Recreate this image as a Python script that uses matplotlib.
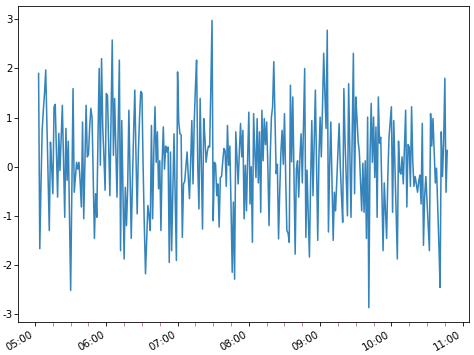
import numpy as np
import pandas as pd
import matplotlib
matplotlib.use('Agg')
import matplotlib.pyplot as plt
import matplotlib.dates as mdates

# one reading per minute, starting 05:03
start = '2021-01-01 05:03'
values = [
	1.90, -1.67, -0.40, 0.74, 1.15, 1.50, 1.97, 0.90, -0.20, -1.30,
	0.50, 0.00, -0.55, 1.22, 1.27, 0.30, -0.62, 0.68, -0.08, 0.60,
	1.25, 0.10, -1.03, 0.78, -0.28, 0.52, -1.00, -2.52, -0.50, 1.59,
	-0.52, -0.20, 0.09, -0.05, 0.09, -0.30, -0.82, 0.91, -1.06, 0.10,
	1.25, 0.20, 0.25, 0.80, 1.19, 1.00, -0.20, -1.46, -0.55, -1.03,
	0.60, 2.00, 0.03, 2.20, 0.81, 0.20, -0.48, 1.49, 1.45, 0.40,
	-0.59, 1.00, 2.58, 0.23, 1.39, 0.40, -0.62, 0.80, 2.17, -1.71,
	0.94, -0.50, -1.88, -0.42, -1.20, -0.42, 1.15, -0.20, -1.46, -0.30,
	0.70, 1.56, 0.20, -0.96, 0.30, 1.00, 1.53, 1.50, 0.00, -1.20,
	-2.18, -1.50, -0.79, -1.00, -1.30, 0.84, -1.06, 0.30, 1.22, 0.09,
	0.71, -0.45, 0.12, -1.30, 0.10, 0.81, -0.05, 0.42, 0.30, 0.40,
	-1.95, 0.30, -1.71, -0.50, 0.67, -0.60, -1.91, 1.93, 0.90, 0.67,
	0.65, -1.44, -0.35, -0.30, 0.00, 0.30, -0.20, -0.65, 0.10, 0.94,
	-0.35, 0.90, 1.60, 2.17, 0.00, -0.86, 1.39, 0.00, -1.27, 0.98,
	0.60, 0.09, 0.30, 0.42, 0.40, 1.60, 2.98, -1.10, 0.09, 0.05,
	-0.59, -0.35, -1.23, -0.22, -0.20, 0.10, 0.37, 0.33, -0.40, 0.84,
	0.03, 0.42, -0.80, -2.15, -0.72, -2.29, 0.71, 0.20, -0.35, 0.30,
	0.88, 0.20, 0.74, -1.06, 0.03, -0.90, 0.20, 1.11, -0.76, 0.00,
	-1.54, 1.08, 0.30, -0.22, 0.98, -0.33, 0.71, -0.93, 1.15, 0.12,
	0.98, 0.45, 0.91, 0.00, -1.20, 0.20, 1.01, 1.22, 2.14, 1.00,
	-0.14, 0.05, -1.47, -0.50, 0.30, 0.74, 0.05, 1.08, -0.20, -1.30,
	-1.35, -1.54, 1.66, 0.10, 1.42, -0.20, -1.78, -0.05, 0.12, -0.62,
	0.20, 0.67, -0.33, 0.80, 2.00, -1.44, -0.07, -1.00, -1.84, -0.30,
	0.94, -0.59, 0.50, 1.56, 0.00, -1.50, 0.20, 1.01, 0.20, 1.20,
	2.31, 1.50, 0.78, 2.78, -1.33, 0.00, 0.91, -0.30, -1.50, -0.52,
	-0.90, -0.28, 0.30, 0.88, 0.00, -0.60, -1.13, 1.59, 0.50, -0.26,
	-1.00, 1.69, 0.30, -1.03, 0.60, 2.31, -0.55, 1.42, 1.00, 0.52,
	0.30, -0.30, -0.90, 0.07, -0.93, 0.12, -1.46, 1.01, -2.87, 0.20,
	1.29, 0.09, 1.01, -0.22, 0.81, -1.03, 1.42, 0.48, 0.60, -0.50,
	-1.71, -0.33, -0.90, -1.46, -0.20, 0.60, 0.90, 1.22, -0.93, 0.94,
	0.00, -1.00, -1.88, 0.52, -0.10, -0.15, 0.20, -0.35, 0.40, 1.15,
	-0.82, 0.45, 0.40, -0.40, 1.22, 0.10, -0.40, -0.20, -0.35, -0.52,
	-0.30, -0.17, -0.76, 0.88, -1.60, -0.60, -0.20, -0.70, -1.20, -1.71,
	1.08, 0.42, 0.98, 0.30, -0.33, -0.03, -0.80, -1.60, -2.46, 0.71,
	-0.20, 0.50, 1.80, -0.52, 0.33,
]
times = pd.date_range(start, periods=len(values), freq='1min')

plt.rcParams['axes.unicode_minus'] = False

fig = plt.figure(figsize=(474/74, 355/74), dpi=74)
ax = fig.add_axes([18/474, 33/355, 451/474, 316/355])
ax.plot(times, values, color='#1f77b4', lw=1.5, alpha=0.9)

ax.xaxis.set_major_locator(mdates.HourLocator())
ax.xaxis.set_major_formatter(mdates.DateFormatter('%H:%M'))
ax.xaxis.set_minor_locator(mdates.MinuteLocator(byminute=[15, 30, 45]))
ax.tick_params(axis='x', which='minor', length=3.5, color='#b04040')
ax.tick_params(axis='y', pad=1.5)
ax.set_xlim(pd.Timestamp('2021-01-01 04:45:40'), pd.Timestamp('2021-01-01 11:05:20'))
ax.set_yticks([-3, -2, -1, 0, 1, 2, 3])
for lbl in ax.get_xticklabels():
	lbl.set_rotation(30)
	lbl.set_ha('right')

fig.savefig('out.png', dpi=74)
